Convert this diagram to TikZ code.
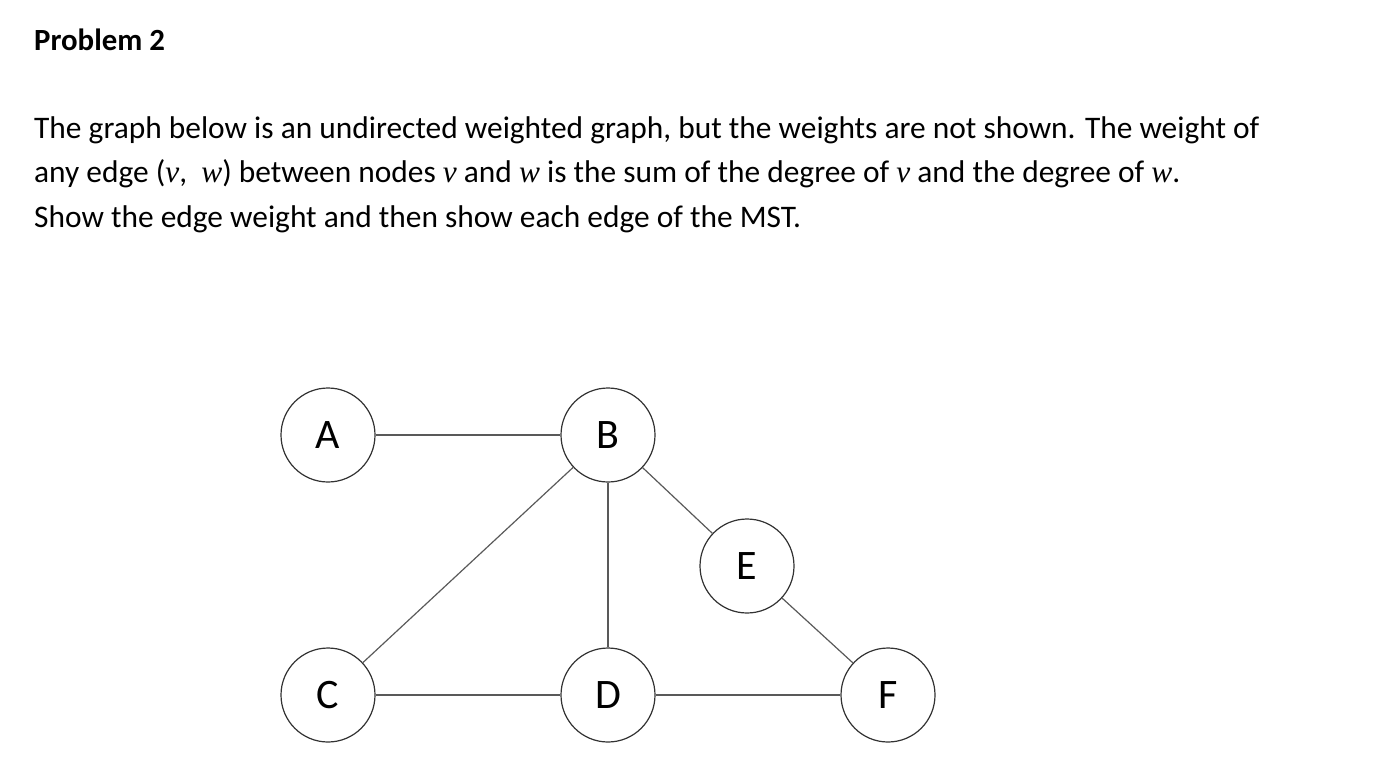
\documentclass[tikz,border=0pt]{standalone}
\usepackage{fontspec}
\setmainfont{Carlito}
\newfontfamily\mvfont{Liberation Serif}
\newcommand{\mv}[1]{{\mvfont\itshape #1}}
\begin{document}
\begin{tikzpicture}[x=1pt,y=-1pt,
  vert/.style={circle,draw=black!80,line width=1.2pt,minimum size=94pt,inner sep=0pt,font=\fontsize{42}{42}\selectfont},
  edge/.style={draw=black!65,line width=1.2pt},
  txt/.style={anchor=base west,inner sep=0pt,font=\fontsize{31.4}{36}\selectfont}]
\useasboundingbox (0,0) rectangle (1396,766);
\node[txt,font=\fontsize{30.8}{36}\selectfont\bfseries] (t0) at (34,50) {Problem 2};
\node[txt] (t1) at (34,138) {The graph below is an undirected weighted graph, but the weights are not shown. The weight of};
\node[txt] (t2) at (34,182) {any edge (\mv{v},\ \ \mv{w}) between nodes \mv{v} and \mv{w} is the sum of the degree of \mv{v} and the degree of \mv{w}.};
\node[txt] (t3) at (34,227) {Show the edge weight and then show each edge of the MST.};
\node[vert] (A) at (328,435) {A};
\node[vert] (B) at (608,435) {B};
\node[vert] (E) at (747,566) {E};
\node[vert] (C) at (328,695) {C};
\node[vert] (D) at (608,695) {D};
\node[vert] (F) at (888,695) {F};
\draw[edge] (A)--(B);
\draw[edge] (B)--(C);
\draw[edge] (B)--(D);
\draw[edge] (B)--(E);
\draw[edge] (E)--(F);
\draw[edge] (C)--(D);
\draw[edge] (D)--(F);
\end{tikzpicture}
\end{document}
